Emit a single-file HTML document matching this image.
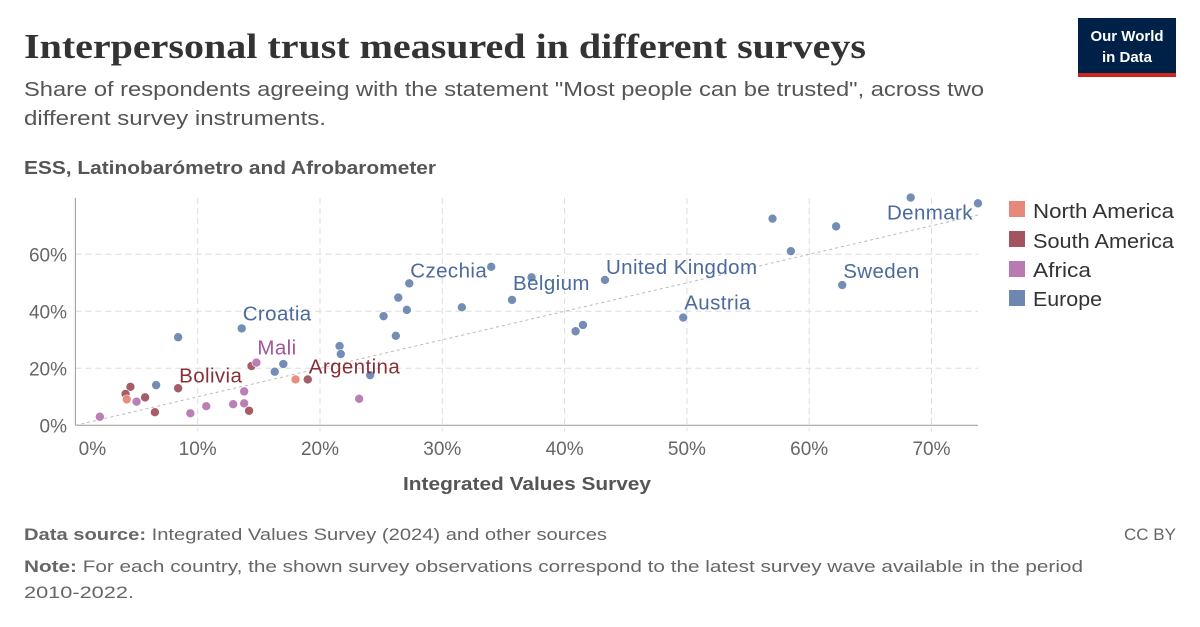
<!DOCTYPE html>
<html><head><meta charset="utf-8">
<style>
body{margin:0;background:#fff;}
svg{display:block;font-family:"Liberation Sans",sans-serif;}
</style></head>
<body>
<svg id="chart" width="1200" height="627" viewBox="0 0 1200 627">
<text x="24" y="58" font-family="Liberation Serif,serif" font-size="35" font-weight="bold" fill="#333" textLength="842" lengthAdjust="spacingAndGlyphs">Interpersonal trust measured in different surveys</text>
<text x="24" y="96" font-size="20" fill="#555" textLength="960" lengthAdjust="spacingAndGlyphs">Share of respondents agreeing with the statement "Most people can be trusted", across two</text>
<text x="24" y="125" font-size="20" fill="#555" textLength="302" lengthAdjust="spacingAndGlyphs">different survey instruments.</text>
<g>
<rect x="1078" y="18" width="98" height="55" fill="#002147"/>
<rect x="1078" y="73" width="98" height="4" fill="#ce261e"/>
<text x="1127" y="41" font-size="15" fill="#fff" text-anchor="middle" font-weight="bold">Our World</text>
<text x="1127" y="62" font-size="15" fill="#fff" text-anchor="middle" font-weight="bold">in Data</text>
</g>
<text x="24" y="174" font-size="18" font-weight="bold" fill="#555" textLength="412" lengthAdjust="spacingAndGlyphs">ESS, Latinobarómetro and Afrobarometer</text>
<g id="grid"></g>
<g id="marks"></g>
<text x="527" y="490" font-size="18" font-weight="bold" fill="#555" text-anchor="middle" textLength="248" lengthAdjust="spacingAndGlyphs">Integrated Values Survey</text>
<g font-size="20" fill="#333">
<rect x="1009" y="201" width="16" height="16" fill="#E6887A"/>
<text x="1033" y="218" textLength="141" lengthAdjust="spacingAndGlyphs">North America</text>
<rect x="1009" y="231" width="16" height="16" fill="#A2555F"/>
<text x="1033" y="248" textLength="141" lengthAdjust="spacingAndGlyphs">South America</text>
<rect x="1009" y="261" width="16" height="16" fill="#B77AB3"/>
<text x="1033" y="277" textLength="58" lengthAdjust="spacingAndGlyphs">Africa</text>
<rect x="1009" y="290" width="16" height="16" fill="#6D87B0"/>
<text x="1033" y="306" textLength="69" lengthAdjust="spacingAndGlyphs">Europe</text>
</g>
<text x="24" y="540" font-size="17" fill="#666" textLength="583" lengthAdjust="spacingAndGlyphs"><tspan font-weight="bold">Data source:</tspan> Integrated Values Survey (2024) and other sources</text>
<text x="1176" y="540" font-size="17" fill="#666" text-anchor="end">CC BY</text>
<text x="24" y="572" font-size="17" fill="#666" textLength="1059" lengthAdjust="spacingAndGlyphs"><tspan font-weight="bold">Note:</tspan> For each country, the shown survey observations correspond to the latest survey wave available in the period</text>
<text x="24" y="598" font-size="17" fill="#666" textLength="110" lengthAdjust="spacingAndGlyphs">2010-2022.</text>
</svg>
<script>
const regions = ["North America","South America","Africa","Europe"];
const regionDot = ["#E6887A","#A2555F","#B77AB3","#6D87B0"];
const regionText = ["#c0513f","#883039","#A2559C","#4C6A9C"];
const xTicks = [0,10,20,30,40,50,60,70];
const yTicks = [0,20,40,60];
const xLabels = ["0%","10%","20%","30%","40%","50%","60%","70%"];
const yLabels = ["0%","20%","40%","60%"];
const pointRegion = [3,3,3,3,3,3,3,3,3,3,3,3,3,3,3,3,3,3,3,3,3,3,3,3,3,3,3,1,1,1,1,1,1,1,1,0,0,2,2,2,2,2,2,2,2,2];
const ivsValues = [8.4,13.6,6.6,17.0,16.3,21.6,21.7,24.1,25.2,26.2,26.4,27.1,27.3,31.6,34.0,35.7,37.3,40.9,41.5,43.3,49.7,57.0,58.5,62.2,68.3,73.8,62.7,4.5,4.1,5.7,6.5,8.4,14.4,14.2,19.0,4.2,18.0,2.0,5.0,9.4,10.7,12.9,13.8,13.8,14.8,23.2];
const otherValues = [30.9,34.0,14.1,21.5,18.8,27.8,25.0,17.6,38.3,31.4,44.8,40.5,49.8,41.4,55.6,44.0,51.9,33.0,35.2,51.0,37.8,72.5,61.1,69.8,79.9,77.9,49.2,13.5,11.0,9.8,4.6,13.0,20.8,5.1,16.1,9.1,16.1,3.0,8.3,4.2,6.7,7.4,11.9,7.7,22.0,9.3];
const pointLabels = ["","Croatia","","","","","","","","","","","Czechia","","","Belgium","","","","United Kingdom","Austria","","","","","Denmark","Sweden","","","","","Bolivia","","","Argentina","","","","","","","","","","Mali",""];
const labelDx = [0,0,0,0,0,0,0,0,0,0,0,0,0,0,0,0,0,0,0,0,0,0,0,0,0,-92,0,0,0,0,0,0,0,0,0,0,0,0,0,0,0,0,0,0,0,0];
const labelDy = [0,-8,0,0,0,0,0,0,0,0,0,0,-6,0,0,-10,0,0,0,-6,-8,0,0,0,0,16,-7,0,0,0,0,-6,0,0,-6,0,0,0,0,0,0,0,0,0,-8,0];

const X0=75.4, XS=12.23, Y0=425.3, YS=2.85, XMAX=978;
const xs=v=>X0+v*XS, ys=v=>Y0-v*YS;
const NS="http://www.w3.org/2000/svg";
function mk(tag,attrs,parent){const e=document.createElementNS(NS,tag);for(const k in attrs)e.setAttribute(k,attrs[k]);parent.appendChild(e);return e;}
const grid=document.getElementById('grid'), marks=document.getElementById('marks');
yTicks.forEach((t,i)=>{
  if(t>0){const l=mk('line',{x1:X0,x2:XMAX,y1:ys(t),y2:ys(t),stroke:'#ddd','stroke-dasharray':'6,4'},grid);
  
  }
  const tx=mk('text',{x:67,y:ys(t)+7,'font-size':19,fill:'#666','text-anchor':'end'},grid);
  tx.textContent=yLabels[i];
  
  
});
xTicks.forEach((t,i)=>{
  if(t>0){const l=mk('line',{x1:xs(t),x2:xs(t),y1:198,y2:Y0+6,stroke:'#ddd','stroke-dasharray':'6,4'},grid);
  
  }
  const tx=mk('text',{x:t===0?X0+17:xs(t),y:455,'font-size':19,fill:'#666','text-anchor':'middle'},grid);
  tx.textContent=xLabels[i];
  
  
});
const ax=mk('line',{x1:X0,x2:X0,y1:198,y2:Y0,stroke:'#999','stroke-width':1},grid);


const bx=mk('line',{x1:X0,x2:XMAX,y1:Y0,y2:Y0,stroke:'#999','stroke-width':1},grid);


const tl=mk('line',{x1:xs(0),y1:ys(0),x2:xs(73.8),y2:ys(73.8),stroke:'#bbb','stroke-dasharray':'3,3','stroke-width':1},grid);


ivsValues.forEach((v,i)=>{
  const r=pointRegion[i];
  const c=mk('circle',{cx:xs(v),cy:ys(otherValues[i]),r:4.5,fill:regionDot[r],stroke:'#fff','stroke-width':0.6,opacity:0.95},marks);
  
  
});
ivsValues.forEach((v,i)=>{
  if(!pointLabels[i])return;
  const r=pointRegion[i];
  const t=mk('text',{x:xs(v)+1+labelDx[i],y:ys(otherValues[i])+labelDy[i],'font-size':20.5,fill:regionText[r],'letter-spacing':0.4},marks);
  t.textContent=pointLabels[i];
  
  
});
</script>
</body></html>
